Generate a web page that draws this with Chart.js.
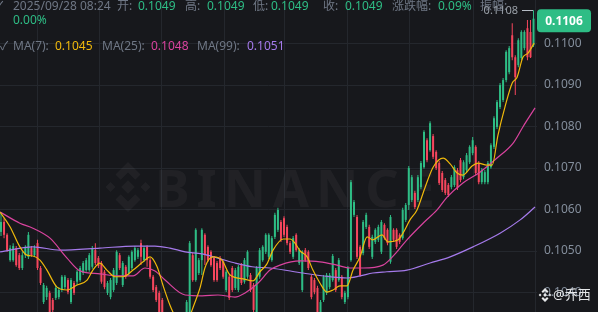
<!DOCTYPE html>
<html><head><meta charset="utf-8">
<script src="https://cdn.jsdelivr.net/npm/chart.js@4.4.1/dist/chart.umd.min.js"></script>
<style>html,body{margin:0;padding:0;background:#17181c;overflow:hidden}#wrap{width:598px;height:312px;position:relative}</style>
</head><body><div id="wrap"><canvas id="c" width="598" height="312"></canvas></div>
<script>
// ---- candle data (OHLC, one per period) ----
const opens = [0.10546,0.10570,0.10539,0.10478,0.10478,0.10507,0.10490,0.10459,0.10490,0.10486,
0.10507,0.10490,0.10519,0.10459,0.10377,0.10389,0.10399,0.10382,0.10387,0.10389,
0.10406,0.10413,0.10430,0.10377,0.10423,0.10426,0.10430,0.10447,0.10454,0.10454,
0.10462,0.10502,0.10483,0.10471,0.10450,0.10399,0.10389,0.10406,0.10423,0.10490,
0.10418,0.10462,0.10447,0.10459,0.10478,0.10486,0.10519,0.10478,0.10510,0.10478,
0.10438,0.10413,0.10399,0.10382,0.10350,0.10336,0.10322,0.10330,0.10316,0.10328,
0.10318,0.10343,0.10339,0.10490,0.10430,0.10447,0.10478,0.10539,0.10510,0.10498,
0.10483,0.10471,0.10483,0.10474,0.10406,0.10438,0.10459,0.10411,0.10406,0.10466,
0.10426,0.10438,0.10442,0.10418,0.10353,0.10438,0.10478,0.10498,0.10486,0.10478,
0.10534,0.10551,0.10570,0.10579,0.10558,0.10519,0.10486,0.10539,0.10471,0.10406,
0.10502,0.10498,0.10438,0.10430,0.10411,0.10353,0.10382,0.10399,0.10413,0.10430,
0.10454,0.10430,0.10438,0.10377,0.10389,0.10478,0.10587,0.10582,0.10510,0.10495,
0.10558,0.10558,0.10486,0.10522,0.10527,0.10498,0.10563,0.10551,0.10474,0.10551,
0.10551,0.10539,0.10531,0.10575,0.10611,0.10623,0.10640,0.10623,0.10654,0.10702,
0.10767,0.10743,0.10777,0.10739,0.10712,0.10688,0.10671,0.10659,0.10654,0.10659,
0.10695,0.10719,0.10678,0.10695,0.10714,0.10736,0.10751,0.10712,0.10666,0.10666,
0.10666,0.10702,0.10751,0.10799,0.10847,0.10864,0.10912,0.10931,0.11020,0.10967,
0.10948,0.10965,0.10989,0.11037,0.11028,0.10996];
const highs = [0.10594,0.10579,0.10543,0.10514,0.10519,0.10512,0.10495,0.10498,0.10514,0.10546,
0.10512,0.10514,0.10527,0.10464,0.10423,0.10416,0.10404,0.10387,0.10416,0.10413,
0.10442,0.10442,0.10435,0.10435,0.10428,0.10454,0.10464,0.10476,0.10483,0.10495,
0.10512,0.10519,0.10488,0.10476,0.10454,0.10428,0.10435,0.10459,0.10502,0.10495,
0.10476,0.10466,0.10490,0.10502,0.10512,0.10507,0.10527,0.10512,0.10514,0.10483,
0.10442,0.10418,0.10404,0.10387,0.10352,0.10340,0.10335,0.10333,0.10332,0.10331,
0.10340,0.10382,0.10524,0.10495,0.10555,0.10483,0.10555,0.10543,0.10514,0.10502,
0.10488,0.10476,0.10488,0.10478,0.10454,0.10442,0.10464,0.10459,0.10466,0.10471,
0.10483,0.10502,0.10447,0.10423,0.10464,0.10507,0.10514,0.10543,0.10543,0.10536,
0.10592,0.10604,0.10575,0.10584,0.10563,0.10524,0.10536,0.10543,0.10507,0.10502,
0.10507,0.10502,0.10442,0.10435,0.10416,0.10382,0.10442,0.10447,0.10447,0.10493,
0.10459,0.10483,0.10442,0.10404,0.10464,0.10671,0.10623,0.10587,0.10514,0.10575,
0.10592,0.10563,0.10539,0.10555,0.10563,0.10575,0.10567,0.10555,0.10587,0.10555,
0.10555,0.10543,0.10604,0.10616,0.10705,0.10683,0.10645,0.10683,0.10717,0.10791,
0.10772,0.10813,0.10782,0.10743,0.10717,0.10693,0.10676,0.10664,0.10683,0.10707,
0.10700,0.10724,0.10719,0.10736,0.10755,0.10775,0.10755,0.10717,0.10700,0.10695,
0.10717,0.10760,0.10825,0.10864,0.10905,0.10917,0.10984,0.10994,0.11049,0.10972,
0.11013,0.11032,0.11032,0.11057,0.11057,0.11080];
const lows = [0.10536,0.10531,0.10498,0.10474,0.10474,0.10462,0.10454,0.10454,0.10483,0.10481,
0.10486,0.10486,0.10454,0.10418,0.10372,0.10382,0.10346,0.10348,0.10382,0.10384,
0.10401,0.10408,0.10396,0.10372,0.10394,0.10418,0.10426,0.10442,0.10450,0.10450,
0.10457,0.10466,0.10459,0.10421,0.10408,0.10394,0.10384,0.10401,0.10418,0.10454,
0.10413,0.10433,0.10442,0.10454,0.10474,0.10481,0.10466,0.10474,0.10462,0.10433,
0.10401,0.10377,0.10346,0.10334,0.10330,0.10318,0.10318,0.10310,0.10312,0.10314,
0.10315,0.10338,0.10334,0.10426,0.10426,0.10442,0.10442,0.10466,0.10474,0.10462,
0.10426,0.10426,0.10454,0.10433,0.10401,0.10382,0.10401,0.10406,0.10401,0.10418,
0.10421,0.10433,0.10401,0.10353,0.10346,0.10433,0.10474,0.10493,0.10481,0.10474,
0.10529,0.10546,0.10522,0.10534,0.10514,0.10493,0.10481,0.10498,0.10466,0.10401,
0.10474,0.10454,0.10384,0.10396,0.10348,0.10346,0.10377,0.10394,0.10408,0.10426,
0.10401,0.10426,0.10384,0.10372,0.10384,0.10474,0.10582,0.10481,0.10438,0.10490,
0.10553,0.10505,0.10481,0.10517,0.10522,0.10493,0.10527,0.10514,0.10469,0.10522,
0.10505,0.10517,0.10527,0.10570,0.10599,0.10618,0.10601,0.10618,0.10649,0.10698,
0.10714,0.10739,0.10722,0.10695,0.10659,0.10642,0.10635,0.10630,0.10649,0.10654,
0.10647,0.10666,0.10673,0.10690,0.10710,0.10731,0.10683,0.10661,0.10661,0.10661,
0.10661,0.10698,0.10746,0.10794,0.10842,0.10859,0.10907,0.10926,0.10960,0.10876,
0.10943,0.10960,0.10984,0.10960,0.10965,0.10992];
const closes = [0.10570,0.10539,0.10502,0.10507,0.10512,0.10466,0.10459,0.10490,0.10510,0.10539,
0.10490,0.10507,0.10459,0.10423,0.10418,0.10411,0.10353,0.10358,0.10411,0.10406,
0.10438,0.10438,0.10401,0.10430,0.10399,0.10450,0.10459,0.10471,0.10478,0.10490,
0.10507,0.10471,0.10464,0.10426,0.10413,0.10423,0.10430,0.10454,0.10498,0.10459,
0.10471,0.10438,0.10486,0.10498,0.10507,0.10502,0.10486,0.10507,0.10478,0.10438,
0.10406,0.10382,0.10353,0.10343,0.10335,0.10322,0.10330,0.10316,0.10328,0.10318,
0.10334,0.10377,0.10519,0.10430,0.10551,0.10478,0.10551,0.10490,0.10478,0.10466,
0.10430,0.10430,0.10459,0.10438,0.10450,0.10387,0.10406,0.10454,0.10462,0.10423,
0.10478,0.10498,0.10406,0.10358,0.10459,0.10502,0.10510,0.10539,0.10539,0.10531,
0.10587,0.10599,0.10527,0.10539,0.10519,0.10498,0.10531,0.10502,0.10502,0.10498,
0.10478,0.10459,0.10389,0.10401,0.10353,0.10377,0.10438,0.10442,0.10442,0.10488,
0.10406,0.10478,0.10389,0.10399,0.10459,0.10666,0.10618,0.10486,0.10442,0.10570,
0.10587,0.10510,0.10534,0.10551,0.10558,0.10570,0.10531,0.10519,0.10582,0.10527,
0.10510,0.10522,0.10599,0.10611,0.10700,0.10678,0.10606,0.10678,0.10712,0.10787,
0.10719,0.10808,0.10727,0.10700,0.10664,0.10647,0.10640,0.10635,0.10678,0.10702,
0.10652,0.10671,0.10714,0.10731,0.10751,0.10767,0.10688,0.10666,0.10695,0.10690,
0.10712,0.10755,0.10820,0.10859,0.10900,0.10912,0.10980,0.10989,0.10967,0.10919,
0.11008,0.11028,0.11028,0.10967,0.10967,0.11060];

// ---- moving averages, read at sample candle positions ----
const ma7X = [-0.3,3.0,6.2,8.5,10.5,12.8,15.1,18.4,21.7,25.0,28.3,30.2,32.5,34.8,37.5,40.1,43.4,46.7,49.0,51.3,53.2,55.5,57.5,59.5,61.5,63.4,65.4,67.0,68.7,70.0,72.6,75.3,79.5,82.8,85.1,87.4,89.4,92.7,95.0,96.6,98.3,100.6,102.5,104.8,107.1,109.1,111.4,113.7,115.7,118.0,120.3,122.2,125.2,127.2,130.5,132.1,134.4,136.7,139.3,142.0,145.3,147.6,149.9,151.8,154.8,156.8,159.7,161.4,163.3,165.6,168.0,169.6,171.5,173.2,175.2];
const ma7V = [0.10594,0.10558,0.10510,0.10490,0.10488,0.10478,0.10454,0.10413,0.10406,0.10418,0.10430,0.10454,0.10471,0.10454,0.10438,0.10438,0.10454,0.10474,0.10486,0.10462,0.10418,0.10370,0.10339,0.10322,0.10334,0.10370,0.10411,0.10459,0.10483,0.10486,0.10478,0.10442,0.10433,0.10428,0.10450,0.10469,0.10502,0.10529,0.10529,0.10519,0.10500,0.10486,0.10454,0.10423,0.10401,0.10406,0.10416,0.10416,0.10454,0.10486,0.10534,0.10527,0.10539,0.10522,0.10527,0.10543,0.10575,0.10599,0.10652,0.10702,0.10724,0.10710,0.10688,0.10683,0.10705,0.10712,0.10707,0.10707,0.10779,0.10847,0.10905,0.10919,0.10967,0.10977,0.11001];
const ma25X = [-0.3,6.2,10.5,16.1,21.7,26.0,32.5,38.1,43.4,47.3,50.6,53.9,60.5,66.1,71.3,76.9,80.2,84.5,88.4,91.7,98.3,104.8,110.4,114.7,119.0,125.5,130.1,133.4,138.7,143.3,146.6,151.8,157.4,163.0,168.3,171.5,175.5];
const ma25V = [0.10594,0.10567,0.10555,0.10531,0.10483,0.10452,0.10445,0.10440,0.10440,0.10459,0.10452,0.10430,0.10394,0.10392,0.10394,0.10389,0.10399,0.10423,0.10454,0.10466,0.10476,0.10474,0.10466,0.10459,0.10459,0.10466,0.10498,0.10527,0.10567,0.10599,0.10630,0.10664,0.10690,0.10724,0.10760,0.10799,0.10845];
const ma99X = [-0.3,10.5,19.4,32.5,44.0,50.6,55.5,60.5,66.1,71.3,76.9,82.5,88.4,99.2,108.1,113.7,118.0,122.2,126.8,133.4,141.0,147.6,155.1,164.0,170.6,175.5];
const ma99V = [0.10498,0.10510,0.10502,0.10507,0.10512,0.10512,0.10507,0.10498,0.10493,0.10483,0.10471,0.10462,0.10459,0.10447,0.10438,0.10435,0.10440,0.10447,0.10450,0.10454,0.10471,0.10486,0.10510,0.10543,0.10575,0.10606];

// ---- axis ticks ----
const yTicks = [0.1040,0.1050,0.1060,0.1070,0.1080,0.1090,0.1100];
const timeGrid = [12.06,32.3,52.8,73.4,93.3,113.8,134.4,155.2,175.65];

// ---- header texts ----
const headerDate = '2025/09/28 08:24';
const headerFields = [['开:','0.1049'],['高:','0.1049'],['低:','0.1049'],['收:','0.1049'],['涨跌幅:','0.09%'],['振幅:','0.00%']];
const maLegend = [['MA(7):','0.1045'],['MA(25):','0.1048'],['MA(99):','0.1051']];
const lastPrice = 0.1106, highPrice = 0.1108;

const GREEN='#2EBD85', RED='#F6465D', BG='#17181C', GRID='#24272D', TXT='#848E9C', LBL='#6F7785';
const C7='#F0B90B', C25='#D9439E', C99='#A57AEB';
const FF='"Noto Sans","Noto Sans CJK SC",sans-serif';
const up = i => closes[i] >= opens[i];

function diamond(ctx,cx,cy,h){ctx.beginPath();ctx.moveTo(cx,cy-h);ctx.lineTo(cx+h,cy);ctx.lineTo(cx,cy+h);ctx.lineTo(cx-h,cy);ctx.closePath();ctx.fill();}
function logo(ctx,cx,cy,r){
  diamond(ctx,cx,cy,0.27*r);
  diamond(ctx,cx-0.7*r,cy,0.2*r);
  diamond(ctx,cx+0.7*r,cy,0.2*r);
  for(const s of [-1,1]){
    ctx.beginPath();
    ctx.moveTo(cx,cy+s*r);ctx.lineTo(cx+0.5*r,cy+s*0.5*r);ctx.lineTo(cx+0.29*r,cy+s*0.29*r);
    ctx.lineTo(cx,cy+s*0.58*r);ctx.lineTo(cx-0.29*r,cy+s*0.29*r);ctx.lineTo(cx-0.5*r,cy+s*0.5*r);
    ctx.closePath();ctx.fill();
  }
}

const overlay = {
  id:'overlay',
  beforeDraw(chart){const c=chart.ctx;c.save();c.fillStyle=BG;c.fillRect(0,0,chart.width,chart.height);c.restore();},
  beforeDatasetsDraw(chart){
    const c=chart.ctx;c.save();
    c.fillStyle='rgba(255,255,255,0.045)';
    logo(c,128,187,25);
    c.font='bold 52px '+FF;c.textBaseline='alphabetic';
    c.letterSpacing='7px';
    c.fillText('BINANCE',155,207);
    c.restore();
  },
  afterDraw(chart){
    const c=chart.ctx;c.save();
    const y=chart.scales.y;
    // y-axis tick labels (drawn from the scale)
    c.font='12px '+FF;c.fillStyle=TXT;c.textAlign='left';c.textBaseline='middle';
    yTicks.forEach(v=>c.fillText(v.toFixed(4),544,y.getPixelForValue(v)));
    c.textBaseline='alphabetic';
    // line 1
    c.fillStyle=LBL;c.fillText('✓',-5,10);
    c.fillText(headerDate,13,10);
    const xs=[[117,138],[185,207],[253,271],[323,345],[392,438],[480,13]];
    headerFields.forEach((f,k)=>{
      c.fillStyle=LBL;c.fillText(f[0],xs[k][0],10);
      c.fillStyle=GREEN;
      if(k===5) c.fillText(f[1],13,24); else c.fillText(f[1],xs[k][1],10);
    });
    // MA legend
    c.fillStyle=LBL;c.fillText('✓',0,50);
    const mx=[[13,55],[102,151],[197,247]], mc=[C7,C25,C99];
    maLegend.forEach((m,k)=>{c.fillStyle=LBL;c.fillText(m[0],mx[k][0],50);c.fillStyle=mc[k];c.fillText(m[1],mx[k][1],50);});
    // high marker
    const yh=y.getPixelForValue(highPrice);
    c.fillStyle='#9AA0A8';c.font='11px '+FF;c.textAlign='right';c.fillText(highPrice.toFixed(4),518,yh+4);
    c.strokeStyle='#B7BDC6';c.lineWidth=1;c.beginPath();c.moveTo(522,Math.round(yh)+0.5);c.lineTo(533,Math.round(yh)+0.5);c.stroke();
    // last price box
    const yl=y.getPixelForValue(lastPrice)+2;
    c.fillStyle=GREEN;c.beginPath();c.roundRect(537,yl-11.5,54,23,4);c.fill();
    c.fillStyle='#FFFFFF';c.font='bold 12px '+FF;c.textAlign='center';c.textBaseline='middle';c.fillText(lastPrice.toFixed(4),564,yl+0.5);
    // bottom-right watermark
    c.fillStyle='#E6E8EA';logo(c,545,295,7);
    c.textAlign='left';c.font='13px '+FF;c.fillText('@乔西',553,295);
    c.restore();
  }
};

new Chart(document.getElementById('c'),{
  type:'bar',
  data:{datasets:[
    {type:'line',data:ma7X.map((x,i)=>({x,y:ma7V[i]})),borderColor:C7,borderWidth:1.2,pointRadius:0,cubicInterpolationMode:'monotone',order:0},
    {type:'line',data:ma25X.map((x,i)=>({x,y:ma25V[i]})),borderColor:C25,borderWidth:1.2,pointRadius:0,cubicInterpolationMode:'monotone',order:0},
    {type:'line',data:ma99X.map((x,i)=>({x,y:ma99V[i]})),borderColor:C99,borderWidth:1.2,pointRadius:0,cubicInterpolationMode:'monotone',order:0},
    {type:'bar',data:opens.map((o,i)=>({x:i,y:[Math.min(o,closes[i]),Math.max(o,closes[i])]})),backgroundColor:ctx=>up(ctx.dataIndex)?GREEN:RED,barThickness:2,grouped:false,inflateAmount:0,borderWidth:0,order:2},
    {type:'bar',data:lows.map((l,i)=>({x:i,y:[l,highs[i]]})),backgroundColor:ctx=>up(ctx.dataIndex)?GREEN:RED,barThickness:1,grouped:false,inflateAmount:0,borderWidth:0,order:3}
  ]},
  options:{
    responsive:false,devicePixelRatio:1,animation:false,events:[],
    layout:{padding:0,autoPadding:false},
    plugins:{legend:{display:false},tooltip:{enabled:false}},
    scales:{
      x:{type:'linear',min:-0.33,max:176.14,offset:false,
        grid:{color:GRID,drawTicks:false,offset:false},border:{display:false},ticks:{display:false},
        afterBuildTicks:s=>{s.ticks=timeGrid.map(v=>({value:v}));},
        afterFit:s=>{s.height=0;}},
      y:{position:'right',min:0.10353,max:0.11105,
        grid:{color:GRID,drawTicks:false},border:{display:false},
        ticks:{display:false},
        afterBuildTicks:s=>{s.ticks=yTicks.map(v=>({value:v}));},
        afterFit:s=>{s.width=61;}}
    }
  },
  plugins:[overlay]
});
</script></body></html>
